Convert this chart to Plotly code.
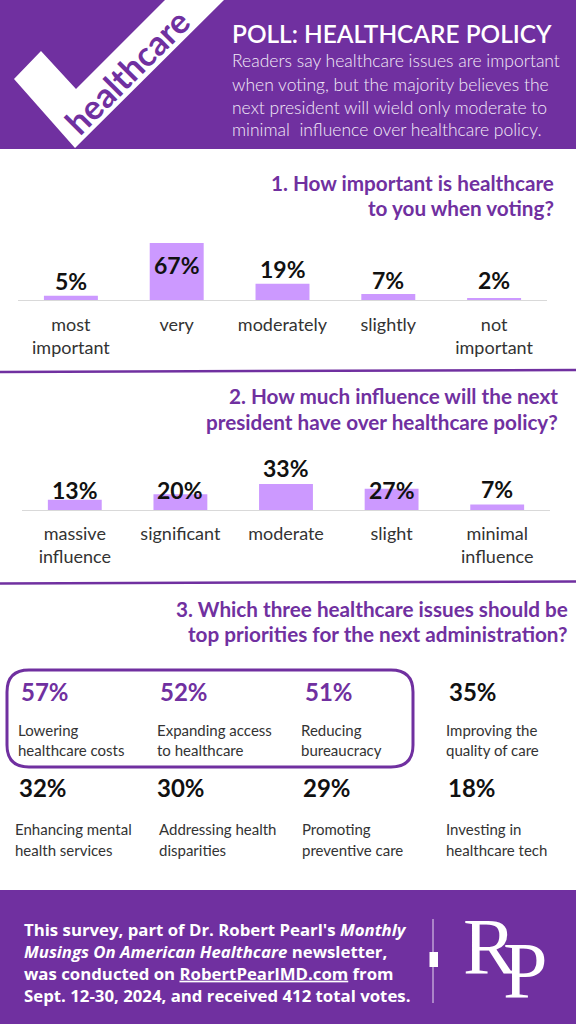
import plotly.graph_objects as go

W, H = 576, 1024
PURPLE = "#7030A0"
BAR = "#CC99FF"

# ---- data ----
q1_categories = ["most<br>important", "very", "moderately", "slightly", "not<br>important"]
q1_values = [5, 67, 19, 7, 2]
q1_label_shift = [15, -22, 15, 14, 18]

q2_categories = ["massive<br>influence", "significant", "moderate", "slight", "minimal<br>influence"]
q2_values = [13, 20, 33, 27, 7]
q2_label_shift = [10, 4, 16, -1, 15]

q3_top_pct = [57, 52, 51, 35]
q3_top_labels = [["Lowering", "healthcare costs"], ["Expanding access", "to healthcare"],
                 ["Reducing", "bureaucracy"], ["Improving the", "quality of care"]]
q3_bottom_pct = [32, 30, 29, 18]
q3_bottom_labels = [["Enhancing mental", "health services"], ["Addressing health", "disparities"],
                    ["Promoting", "preventive care"], ["Investing in", "healthcare tech"]]

header_title = "POLL: HEALTHCARE POLICY"
header_lines = ["Readers say healthcare issues are important",
                "when voting, but the majority believes the",
                "next president will wield only moderate to",
                "minimal  influence over healthcare policy."]
q1_title = ["1. How important is healthcare", "to you when voting?"]
q2_title = ["2. How much influence will the next", "president have over healthcare policy?"]
q3_title = ["3. Which three healthcare issues should be", "top priorities for the next administration?"]
footer_lines = ["This survey, part of Dr. Robert Pearl's <i>Monthly</i>",
                "<i>Musings On American Healthcare</i> newsletter,",
                'was conducted on <span style="text-decoration:underline">RobertPearlMD.com</span> from',
                "Sept. 12-30, 2024, and received 412 total votes."]


def px(x):
    return x / W


def py(y):
    return 1 - y / H


def text(x, y, s, size, color, family="Lato", anchor="left", weight=None, **kw):
    f = dict(size=size, color=color, family=family)
    if weight:
        f["weight"] = weight
    return dict(xref="paper", yref="paper", x=px(x), y=py(y), text=s, showarrow=False,
                xanchor=anchor, yanchor="middle", font=f, align=anchor, borderpad=0, borderwidth=0, **kw)


def rect(x0, y0, x1, y1, color):
    return dict(type="rect", xref="paper", yref="paper", x0=px(x0), x1=px(x1), y0=py(y0), y1=py(y1),
                fillcolor=color, line_width=0, layer="below")


def line(x0, y0, x1, y1, color, w):
    return dict(type="line", xref="paper", yref="paper", x0=px(x0), x1=px(x1), y0=py(y0), y1=py(y1),
                line=dict(color=color, width=w), layer="below")


def xpath(d):
    out = []
    for tok in d:
        if isinstance(tok, str):
            out.append(tok)
        else:
            out.append(f"{px(tok[0]):.5f},{py(tok[1]):.5f}")
    return " ".join(out)


fig = go.Figure()
fig.add_bar(x=q1_categories, y=q1_values, marker=dict(color=BAR, line_width=0), xaxis="x", yaxis="y", hoverinfo="skip")
fig.add_bar(x=q2_categories, y=q2_values, marker=dict(color=BAR, line_width=0), xaxis="x2", yaxis="y2", hoverinfo="skip")

ann = []
ann.append(dict(xref="paper", yref="paper", x=px(126), y=py(71), text="healthcare", showarrow=False,
                xanchor="center", yanchor="middle", textangle=-45, borderpad=0, borderwidth=0,
                font=dict(family="Lato", size=34, color=PURPLE, weight=700)))
ann.append(text(232, 33, header_title, 24.4, "white", weight=600))
for s, y in zip(header_lines, [60, 84, 107, 129]):
    ann.append(text(232, y, s, 17.5, "#F3ECF8", weight=300))

for s, y in zip(q1_title, [183, 208]):
    ann.append(text(554, y, s, 20.7, PURPLE, anchor="right", weight=700))
for s, y in zip(q2_title, [396, 422]):
    ann.append(text(558, y, s, 20.7, PURPLE, anchor="right", weight=700))
for s, y in zip(q3_title, [609, 634]):
    ann.append(text(568, y, s, 20.7, PURPLE, anchor="right", weight=700))

for c, v, sh in zip(q1_categories, q1_values, q1_label_shift):
    ann.append(dict(xref="x", yref="y", x=c, y=v, yshift=sh, text=f"{v}%", showarrow=False, yanchor="middle",
                    font=dict(family="Lato", size=23, color="#111111", weight=700)))
for c, v, sh in zip(q2_categories, q2_values, q2_label_shift):
    ann.append(dict(xref="x2", yref="y2", x=c, y=v, yshift=sh, text=f"{v}%", showarrow=False, yanchor="middle",
                    font=dict(family="Lato", size=23, color="#111111", weight=700)))

top_pct_x = [21, 160, 305, 449]
top_lab_x = [18, 157, 301, 446]
bot_pct_x = [19, 157, 303, 448]
bot_lab_x = [15, 159, 302, 446]
for i, (v, lab) in enumerate(zip(q3_top_pct, q3_top_labels)):
    ann.append(text(top_pct_x[i], 691, f"{v}%", 24, PURPLE if i < 3 else "#111111", weight=700))
    for s, y in zip(lab, [729.5, 750]):
        ann.append(text(top_lab_x[i], y, s, 15, "#333333"))
for i, (v, lab) in enumerate(zip(q3_bottom_pct, q3_bottom_labels)):
    ann.append(text(bot_pct_x[i], 787, f"{v}%", 24, "#111111", weight=700))
    for s, y in zip(lab, [829, 850]):
        ann.append(text(bot_lab_x[i], y, s, 15, "#333333"))

ann.append(text(24, 962, "<br>".join(footer_lines), 16.8, "white", family="Open Sans", weight=700))
ann.append(text(463, 947, "R", 80, "white", family="Liberation Serif"))
ann.append(text(503, 971, "P", 80, "white", family="Liberation Serif"))

shapes = [
    rect(0, 0, W, 149, PURPLE),
    rect(0, 890, W, H, PURPLE),
    dict(type="path", xref="paper", yref="paper", layer="below", fillcolor="white", line_width=0,
         path=xpath(["M", (14, 79), "L", (41, 51), "L", (76, 89), "L", (165, 0), "L", (224, 0), "L", (75, 148), "Z"])),
    line(0, 372, W, 370, PURPLE, 2.5),
    line(0, 583.5, W, 581.5, PURPLE, 2.5),
    dict(type="path", xref="paper", yref="paper", layer="below", line=dict(color=PURPLE, width=3),
         path=xpath(["M", (29, 670), "L", (391, 670), "Q", (413, 670), (413, 692), "L", (413, 745),
                     "Q", (413, 767), (391, 767), "L", (29, 767), "Q", (7, 767), (7, 745),
                     "L", (7, 692), "Q", (7, 670), (29, 670), "Z"])),
    line(433, 919, 433, 1003, "#E6D9F0", 1),
    rect(429.5, 952, 438, 967, "white"),
]

tick_font = dict(family="Lato", size=18, color="#333333")
axis_common = dict(type="category", showline=True, linecolor="#D9D9D9", linewidth=1, ticks="", showgrid=False,
                   tickfont=tick_font, zeroline=False, fixedrange=True)
yaxis_common = dict(visible=False, fixedrange=True, rangemode="tozero")

fig.update_layout(
    width=W, height=H, margin=dict(l=0, r=0, t=0, b=0), showlegend=False,
    paper_bgcolor="white", plot_bgcolor="rgba(0,0,0,0)", bargap=0.49,
    xaxis=dict(domain=[px(18), px(547)], anchor="y", ticklabelstandoff=8, **axis_common),
    yaxis=dict(domain=[py(300), py(243)], range=[0, 67], anchor="x", **yaxis_common),
    xaxis2=dict(domain=[px(22), px(550)], anchor="y2", ticklabelstandoff=7, **axis_common),
    yaxis2=dict(domain=[py(510), py(484)], range=[0, 33], anchor="x2", **yaxis_common),
    annotations=ann, shapes=shapes,
)
fig.write_html("out.html", config=dict(displayModeBar=False),
               post_script="document.body.style.margin='0';document.body.style.overflow='hidden';")
